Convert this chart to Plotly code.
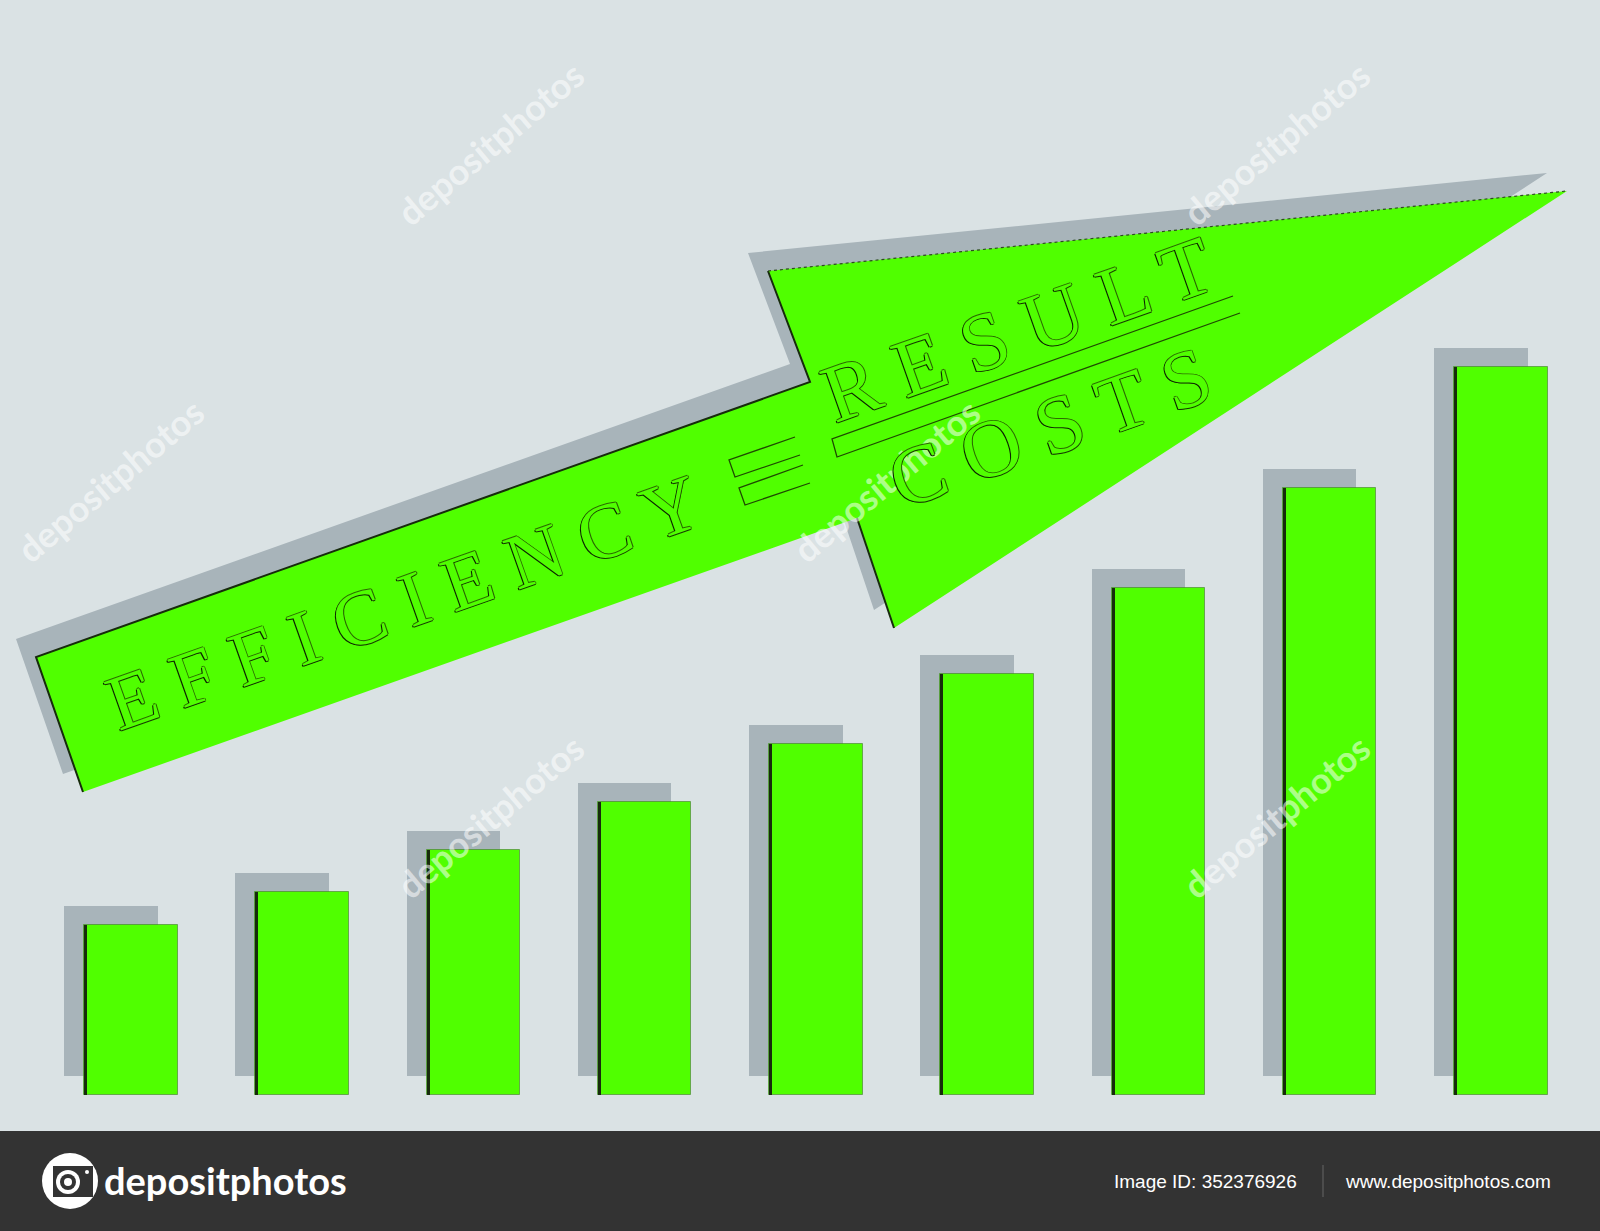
import plotly.graph_objects as go

# ---------------- data ----------------
categories = [1, 2, 3, 4, 5, 6, 7, 8, 9]
bar_values = [170, 203, 245, 293, 351, 421, 507, 607, 728]

word_left = "EFFICIENCY"
word_top = "RESULT"
word_bottom = "COSTS"
brand_text = "depositphotos"
image_id_text = "Image ID: 352376926"
site_text = "www.depositphotos.com"

# ---------------- layout constants (pixels) ----------------
W, H = 1600, 1231
BASE_PX = 1095          # pixel row of the bar bottoms
PITCH_PX = 171.25       # distance between bar centres
FIRST_CENTER_PX = 130.75
BAR_W_PX = 93.5
SHADOW_DX, SHADOW_DY = -20, 19
EDGE_W_PX = 3

BG = "#dae2e4"
GREEN = "#50ff00"
SHADOW = "#a8b4ba"
DARK = "#172b0c"
ENGRAVE = "#1f4a00"
BANNER = "#333333"

def px(x):
    return x / W

def py(y):
    return 1 - y / H

def path(points, close=True):
    s = "M " + " L ".join(f"{px(x):.5f},{py(y):.5f}" for x, y in points)
    return s + (" Z" if close else "")

bw = BAR_W_PX / PITCH_PX
x0 = categories[0] - FIRST_CENTER_PX / PITCH_PX
x1 = categories[0] + (W - FIRST_CENTER_PX) / PITCH_PX

fig = go.Figure()
fig.add_trace(go.Bar(
    x=categories, y=bar_values, base=SHADOW_DY,
    width=bw, offset=-bw / 2 + SHADOW_DX / PITCH_PX,
    marker=dict(color=SHADOW, line=dict(width=0)),
    hoverinfo="skip", showlegend=False))
fig.add_trace(go.Bar(
    x=categories, y=bar_values,
    width=bw, offset=-bw / 2,
    marker=dict(color=GREEN, line=dict(width=1, color="rgba(60,110,40,0.55)")),
    hoverinfo="skip", showlegend=False))
fig.add_trace(go.Bar(
    x=categories, y=bar_values,
    width=EDGE_W_PX / PITCH_PX, offset=-bw / 2,
    marker=dict(color=DARK, line=dict(width=0)),
    hoverinfo="skip", showlegend=False))

# ---------------- arrow ----------------
arrow = [(36, 657), (810, 382), (768, 271), (1567, 191),
         (894, 628), (857, 518), (83, 792)]
arrow_shadow = [(x + SHADOW_DX, y - 18) for x, y in arrow]

shapes = []
shapes.append(dict(type="path", xref="paper", yref="paper", layer="above",
                   path=path(arrow_shadow), fillcolor=SHADOW, line=dict(width=0)))
shapes.append(dict(type="path", xref="paper", yref="paper", layer="above",
                   path=path(arrow), fillcolor=GREEN, line=dict(width=0)))
# dark edges
shapes.append(dict(type="path", xref="paper", yref="paper", layer="above",
                   path=path([arrow[6], arrow[0], arrow[1], arrow[2]], close=False),
                   line=dict(color=DARK, width=2)))
shapes.append(dict(type="path", xref="paper", yref="paper", layer="above",
                   path=path([arrow[2], arrow[3]], close=False),
                   line=dict(color="#2e4a20", width=1.2, dash="dot")))
shapes.append(dict(type="path", xref="paper", yref="paper", layer="above",
                   path=path([arrow[5], arrow[4]], close=False),
                   line=dict(color=DARK, width=2)))

# engraved bars: "=" and fraction bar
eq_top = [(795, 437), (729, 460), (735, 477), (800, 455)]
eq_bot = [(803, 465), (739, 488), (745, 505), (810, 483)]
frac = [(1233, 296), (832, 439), (837, 457), (1240, 313)]
for seg in (eq_top, eq_bot, frac):
    shapes.append(dict(type="path", xref="paper", yref="paper", layer="above",
                       path=path(seg, close=False),
                       line=dict(color=ENGRAVE, width=1.3)))

# ---------------- banner ----------------
shapes.append(dict(type="rect", xref="paper", yref="paper", layer="above",
                   x0=0, x1=1, y0=0, y1=py(1131), fillcolor=BANNER, line=dict(width=0)))
# logo icon
cx, cy = 70, 1181
shapes.append(dict(type="circle", xref="paper", yref="paper", layer="above",
                   x0=px(cx - 28), x1=px(cx + 28), y0=py(cy + 28), y1=py(cy - 28),
                   fillcolor="white", line=dict(width=0)))
shapes.append(dict(type="rect", xref="paper", yref="paper", layer="above",
                   x0=px(53), x1=px(93), y0=py(1197), y1=py(1166),
                   fillcolor=BANNER, line=dict(width=0)))
for r, c in ((12, "white"), (8, BANNER), (4, "white")):
    shapes.append(dict(type="circle", xref="paper", yref="paper", layer="above",
                       x0=px(cx - 2 - r), x1=px(cx - 2 + r), y0=py(cy + 1 + r), y1=py(cy + 1 - r),
                       fillcolor=c, line=dict(width=0)))
shapes.append(dict(type="circle", xref="paper", yref="paper", layer="above",
                   x0=px(85), x1=px(89), y0=py(1174), y1=py(1170),
                   fillcolor="white", line=dict(width=0)))
shapes.append(dict(type="line", xref="paper", yref="paper", layer="above",
                   x0=px(1323), x1=px(1323), y0=py(1197), y1=py(1165),
                   line=dict(color="#666666", width=1)))

# ---------------- texts ----------------
def engr_font(size):
    return dict(family="Liberation Serif", size=size, color=GREEN,
                shadow="-1.2px 0.4px 0px #0d2400, 0px 1px 0px #1e4a00, "
                       "1px 0px 0px #2c6a00, 0px -1px 0px #2c6a00")

def spaced(s):
    return " ".join(list(s))

annotations = []
def ann(text, x, y, angle, font, xanchor="center"):
    annotations.append(dict(text=text, x=px(x), y=py(y), xref="paper", yref="paper",
                            showarrow=False, textangle=angle, font=font,
                            xanchor=xanchor, yanchor="middle"))

# watermarks (under main texts)
wm_font = dict(family="Lato", size=36, weight="bold", color="rgba(255,255,255,0.55)")
for (wx, wy) in [(490, 143), (1276, 143), (110, 480), (886, 480),
                 (490, 816), (1276, 816)]:
    ann(brand_text, wx, wy, -40, wm_font)

ann(spaced(word_left), 403, 602, -19.5, engr_font(78))
ann(spaced(word_top), 1018, 330, -19.5, engr_font(82))
ann(spaced(word_bottom), 1050, 428, -19.5, engr_font(82))

ann(brand_text, 102, 1180, 0,
    dict(family="Lato", size=38, weight="bold", color="white"), xanchor="left")
ann(image_id_text, 1112, 1181, 0,
    dict(family="Liberation Sans", size=19, color="white"), xanchor="left")
ann(site_text, 1343, 1181, 0,
    dict(family="Liberation Sans", size=19, color="white"), xanchor="left")

fig.update_layout(
    width=W, height=H, autosize=False,
    margin=dict(l=0, r=0, t=0, b=0, pad=0),
    paper_bgcolor=BG, plot_bgcolor=BG,
    barmode="overlay", bargap=0,
    showlegend=False,
    xaxis=dict(range=[x0, x1], visible=False, fixedrange=True),
    yaxis=dict(range=[-(H - BASE_PX), BASE_PX], visible=False, fixedrange=True),
    shapes=shapes, annotations=annotations,
)

fig.write_html("out.html", config={"displayModeBar": False},
               post_script="document.body.style.margin='0';")
